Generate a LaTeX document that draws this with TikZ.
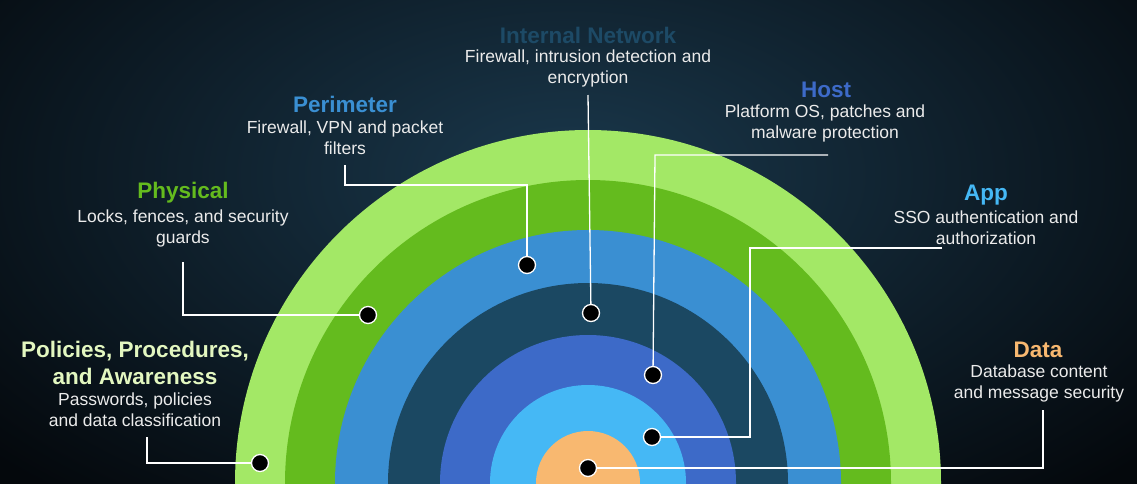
\documentclass[tikz,border=0pt]{standalone}
\usepackage{fontspec}
\setmainfont{Liberation Sans}
\begin{document}
\begin{tikzpicture}[x=1pt,y=-1pt,
  dot/.style={circle,fill=black,draw=white,line width=1.3pt,minimum size=17pt,inner sep=0pt},
  lead/.style={draw=white,line width=1.3pt},
  ttl/.style={font=\bfseries\fontsize{22.5}{27}\selectfont,inner sep=0pt},
  txt/.style={font=\fontsize{17.5}{21}\selectfont,text=white!92!black,inner sep=0pt,align=center}]
\definecolor{cLG}{HTML}{A3E866}\definecolor{cDG}{HTML}{64BB1E}
\definecolor{cBL}{HTML}{3A8FD2}\definecolor{cNV}{HTML}{1B4862}
\definecolor{cRB}{HTML}{3D6AC8}\definecolor{cSK}{HTML}{45B8F5}
\definecolor{cOR}{HTML}{F8B870}\definecolor{cIN}{HTML}{1D4A66}
\definecolor{cPO}{HTML}{E3F7C0}
\useasboundingbox (0,0) rectangle (1137,483);
\clip (0,0) rectangle (1137,483);
\shade[inner color={rgb,255:red,26;green,56;blue,76},outer color={rgb,255:red,4;green,8;blue,12}] (-200,-250) rectangle (1337,600);
\fill[cLG] (588,483) circle (353);
\fill[cDG] (588,483) circle (303);
\fill[cBL] (588,483) circle (253);
\fill[cNV] (588,483) circle (200);
\fill[cRB] (588,483) circle (148);
\fill[cSK] (588,483) circle (98);
\fill[cOR] (588,483) circle (52);
% leaders
\coordinate (a1) at (147,437); \coordinate (b1) at (147,463);
\coordinate (a2) at (183,262); \coordinate (b2) at (183,315);
\coordinate (a3) at (345,165); \coordinate (b3) at (345,185); \coordinate (c3) at (527,185);
\coordinate (a4) at (588,95);
\coordinate (a5) at (828,155); \coordinate (b5) at (655,155);
\coordinate (a6) at (942,248); \coordinate (b6) at (750,248); \coordinate (c6) at (750,437);
\coordinate (a7) at (1043,410); \coordinate (b7) at (1043,468);
\coordinate (p1) at (260,463); \coordinate (p2) at (368,315); \coordinate (p3) at (527,265);
\coordinate (p4) at (591,313); \coordinate (p5) at (653,375); \coordinate (p6) at (652,437);
\coordinate (p7) at (588,468);
\draw[lead] (a1) -- (b1) -- (p1);
\draw[lead] (a2) -- (b2) -- (p2);
\draw[lead] (a3) -- (b3) -- (c3) -- (p3);
\draw[lead] (a4) -- (p4);
\draw[lead] (a5) -- (b5) -- (p5);
\draw[lead] (a6) -- (b6) -- (c6) -- (p6);
\draw[lead] (a7) -- (b7) -- (p7);
% dots
\node[dot] (d1) at (p1) {};
\node[dot] (d2) at (p2) {};
\node[dot] (d3) at (p3) {};
\node[dot] (d4) at (p4) {};
\node[dot] (d5) at (p5) {};
\node[dot] (d6) at (p6) {};
\node[dot] (d7) at (p7) {};
% texts
\node[ttl,text=cIN] (t4) at (588,35) {Internal Network};
\node[txt] (s4) at (588,68) {Firewall, intrusion detection and\\encryption};
\node[ttl,text=cRB] (t5) at (826,90) {Host};
\node[txt] (s5) at (825,123) {Platform OS, patches and\\malware protection};
\node[ttl,text=cBL] (t3) at (345,104) {Perimeter};
\node[txt] (s3) at (345,138) {Firewall, VPN and packet\\filters};
\node[ttl,text=cDG] (t2) at (183,193) {Physical};
\node[txt] (s2) at (183,228) {Locks, fences, and security\\guards};
\node[ttl,text=cSK] (t6) at (986,195) {App};
\node[txt] (s6) at (986,228) {SSO authentication and\\authorization};
\node[ttl,text=cPO,align=center,font=\bfseries\fontsize{22.5}{27}\selectfont] (t1) at (135,363) {Policies, Procedures,\\and Awareness};
\node[txt] (s1) at (135,410) {Passwords, policies\\and data classification};
\node[ttl,text=cOR] (t7) at (1038,350) {Data};
\node[txt] (s7) at (1039,383) {Database content\\and message security};
\end{tikzpicture}
\end{document}
